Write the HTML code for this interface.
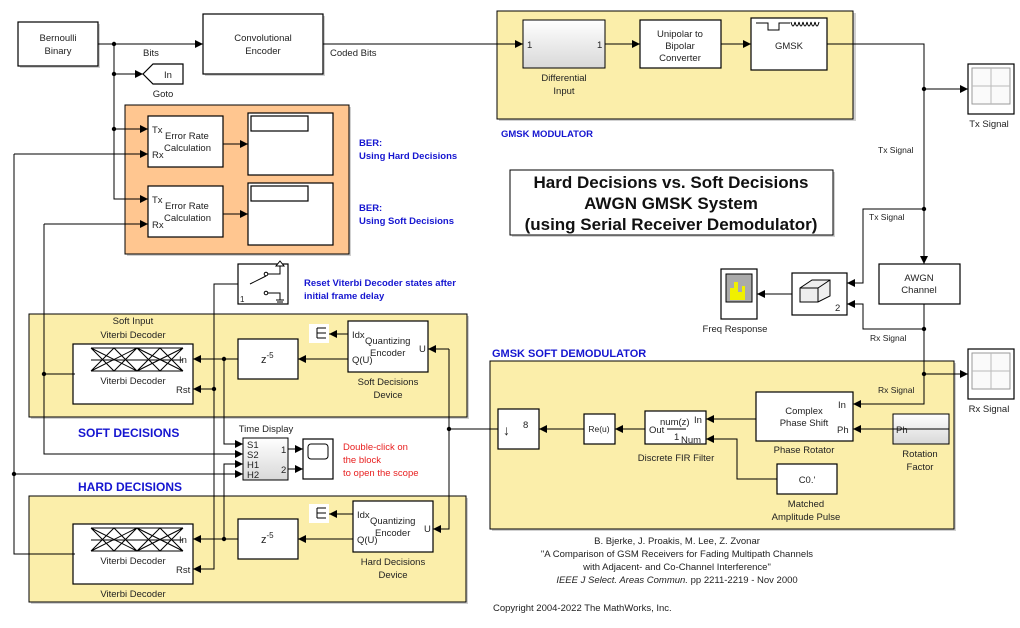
<!DOCTYPE html>
<html><head><meta charset="utf-8"><style>
html,body{margin:0;padding:0;background:#fff}
svg{display:block}
text{font-family:"Liberation Sans",Arial,sans-serif;font-size:9.5px;fill:#222}
.b{fill:#fff;stroke:#000;stroke-width:1.2}
.y{fill:#fbeeaa;stroke:#000;stroke-width:1}
.l{fill:none;stroke:#000;stroke-width:1}
.bl{fill:#1515d0;font-weight:bold;font-size:9.5px}
.bh{fill:#1515d0;font-weight:bold;font-size:12px}
.c{text-anchor:middle}
.sh{fill:#000;opacity:.18}
</style></head><body>
<svg width="1020" height="628" viewBox="0 0 1020 628" xmlns="http://www.w3.org/2000/svg">
<defs>
<marker id="a" markerWidth="8" markerHeight="8" refX="8" refY="4" orient="auto" markerUnits="userSpaceOnUse"><path d="M0,0 L8,4 L0,8 z" fill="#000"/></marker>
<linearGradient id="g" x1="0" y1="0" x2="0" y2="1"><stop offset="0" stop-color="#fff"/><stop offset="1" stop-color="#d8d8d8"/></linearGradient>
</defs>

<!-- shadows -->
<g class="sh">
<rect x="20" y="24" width="80" height="44"/><rect x="205" y="16" width="120" height="60"/>
<rect x="127" y="107" width="224" height="149"/><rect x="499" y="13" width="357" height="108"/>
<rect x="31" y="316" width="438" height="103"/><rect x="31" y="498" width="437" height="106"/>
<rect x="492" y="363" width="464" height="168"/><rect x="512" y="172" width="323" height="65"/>
</g>

<!-- containers -->
<rect x="125" y="105" width="224" height="149" fill="#ffc690" stroke="#000"/>
<rect class="y" x="497" y="11" width="356" height="108"/>
<rect class="y" x="29" y="314" width="438" height="103"/>
<rect class="y" x="29" y="496" width="437" height="106"/>
<rect class="y" x="490" y="361" width="464" height="168"/>

<!-- top blocks -->
<rect class="b" x="18" y="22" width="80" height="44"/>
<text class="c" x="58" y="41">Bernoulli</text><text class="c" x="58" y="54">Binary</text>
<rect class="b" x="203" y="14" width="120" height="60"/>
<text class="c" x="263" y="41">Convolutional</text><text class="c" x="263" y="54">Encoder</text>
<path d="M143,74 L153,64 L183,64 L183,84 L153,84 Z" class="b"/>
<text x="164" y="78">In</text><text class="c" x="163" y="97">Goto</text>
<text x="143" y="56">Bits</text><text x="330" y="56">Coded Bits</text>

<!-- error rate -->
<rect class="b" x="148" y="116" width="75" height="51"/>
<text x="152" y="133">Tx</text><text x="165" y="139">Error Rate</text><text x="164" y="151">Calculation</text><text x="152" y="158">Rx</text>
<rect class="b" x="148" y="186" width="75" height="51"/>
<text x="152" y="203">Tx</text><text x="165" y="209">Error Rate</text><text x="164" y="221">Calculation</text><text x="152" y="228">Rx</text>
<rect class="b" x="248" y="113" width="85" height="62"/><rect class="b" x="251" y="116" width="57" height="15"/>
<rect class="b" x="248" y="183" width="85" height="62"/><rect class="b" x="251" y="186" width="57" height="15"/>
<text class="bl" x="359" y="146">BER:</text><text class="bl" x="359" y="159">Using Hard Decisions</text>
<text class="bl" x="359" y="211">BER:</text><text class="bl" x="359" y="224">Using Soft Decisions</text>

<!-- switch -->
<rect class="b" x="238" y="264" width="50" height="40"/>
<path class="l" d="M250,284 L266,276 M266,274 L280,274 L280,266 M268,293 L280,293 L280,300 M276,300 L284,300 M277,302 L283,302"/>
<path d="M276,266 L284,266 L280,261 Z" fill="#fff" stroke="#000"/>
<circle cx="266" cy="274" r="1.8" fill="#fff" stroke="#000"/><circle cx="266" cy="293" r="1.8" fill="#fff" stroke="#000"/>
<text x="240" y="302" style="font-size:8px">1</text>
<text class="bl" x="304" y="286">Reset Viterbi Decoder states after</text><text class="bl" x="304" y="299">initial frame delay</text>

<!-- soft section -->
<text class="c" x="133" y="324">Soft Input</text><text class="c" x="133" y="338">Viterbi Decoder</text>
<rect class="b" x="73" y="344" width="120" height="60"/>
<path class="l" d="M91,348 L183,348 M91,371 L183,371 M91,348 L114,371 L137,348 L160,371 L183,348 M91,371 L114,348 L137,371 L160,348 L183,371 M91,360 L183,360 M91,348 L137,371 M137,348 L183,371 M91,371 L137,348 M137,371 L183,348"/>
<text class="c" x="133" y="384">Viterbi Decoder</text><text x="179" y="363">In</text><text x="176" y="393">Rst</text>
<rect class="b" x="238" y="339" width="60" height="40"/><text x="261" y="363" style="font-size:11px">z<tspan dy="-5" font-size="8">-5</tspan></text>
<rect class="b" x="348" y="321" width="80" height="51"/>
<text x="352" y="338">Idx</text><text x="365" y="344">Quantizing</text><text x="370" y="356">Encoder</text><text x="352" y="363">Q(U)</text><text x="419" y="352">U</text>
<rect x="309" y="324" width="20" height="19" fill="#fff"/><path class="l" d="M317,328 L317,338 M317,328 L326,328 M317,333 L326,333 M317,338 L326,338"/>
<text class="c" x="388" y="385">Soft Decisions</text><text class="c" x="388" y="398">Device</text>
<text class="bh" x="78" y="437">SOFT DECISIONS</text>
<text class="bh" x="78" y="491">HARD DECISIONS</text>

<!-- time display -->
<text class="c" x="266" y="432">Time Display</text>
<rect x="243" y="438" width="45" height="42" fill="url(#g)" stroke="#000"/>
<text x="247" y="448">S1</text><text x="247" y="458">S2</text><text x="247" y="468">H1</text><text x="247" y="478">H2</text>
<text x="281" y="453">1</text><text x="281" y="473">2</text>
<rect class="b" x="303" y="439" width="30" height="40"/><rect x="308" y="444" width="20" height="15" rx="3" fill="#fff" stroke="#000"/>
<text x="343" y="450" fill="#e02020" style="fill:#e82020">Double-click on</text><text x="343" y="463" style="fill:#e82020">the block</text><text x="343" y="476" style="fill:#e82020">to open the scope</text>

<!-- hard section -->
<rect class="b" x="73" y="524" width="120" height="60"/>
<path class="l" d="M91,528 L183,528 M91,551 L183,551 M91,528 L114,551 L137,528 L160,551 L183,528 M91,551 L114,528 L137,551 L160,528 L183,551 M91,540 L183,540 M91,528 L137,551 M137,528 L183,551 M91,551 L137,528 M137,551 L183,528"/>
<text class="c" x="133" y="564">Viterbi Decoder</text><text x="179" y="543">In</text><text x="176" y="573">Rst</text>
<text class="c" x="133" y="597">Viterbi Decoder</text>
<rect class="b" x="238" y="519" width="60" height="40"/><text x="261" y="543" style="font-size:11px">z<tspan dy="-5" font-size="8">-5</tspan></text>
<rect class="b" x="353" y="501" width="80" height="51"/>
<text x="357" y="518">Idx</text><text x="370" y="524">Quantizing</text><text x="375" y="536">Encoder</text><text x="357" y="543">Q(U)</text><text x="424" y="532">U</text>
<rect x="309" y="504" width="20" height="19" fill="#fff"/><path class="l" d="M317,508 L317,518 M317,508 L326,508 M317,513 L326,513 M317,518 L326,518"/>
<text class="c" x="393" y="565">Hard Decisions</text><text class="c" x="393" y="578">Device</text>

<!-- modulator -->
<rect x="523" y="20" width="82" height="48" fill="url(#g)" stroke="#000"/>
<text x="527" y="48">1</text><text x="597" y="48">1</text>
<text class="c" x="564" y="81">Differential</text><text class="c" x="564" y="94">Input</text>
<rect class="b" x="640" y="20" width="81" height="48"/>
<text class="c" x="680" y="37">Unipolar to</text><text class="c" x="680" y="49">Bipolar</text><text class="c" x="680" y="61">Converter</text>
<rect class="b" x="751" y="18" width="76" height="52"/>
<path class="l" d="M756,23 L768,23 L768,30 L779,30 L779,23 L790,23 M791,22 q2,8 4,0 q2,8 4,0 q2,8 4,0 q2,8 4,0 q2,8 4,0 q2,8 4,0 q2,8 4,0"/>
<text class="c" x="789" y="49">GMSK</text>
<text class="bl" x="501" y="137">GMSK MODULATOR</text>

<!-- title -->
<rect x="510" y="170" width="323" height="65" fill="#fff" stroke="#000"/>
<text class="c" x="671" y="188" style="font-size:17px;font-weight:bold;fill:#111">Hard Decisions vs. Soft Decisions</text>
<text class="c" x="671" y="209" style="font-size:17px;font-weight:bold;fill:#111">AWGN GMSK System</text>
<text class="c" x="671" y="230" style="font-size:17px;font-weight:bold;fill:#111">(using Serial Receiver Demodulator)</text>

<!-- scopes -->
<rect class="b" x="968" y="64" width="46" height="50"/><rect x="972" y="68" width="38" height="36" fill="#fafafa" stroke="#999"/><path d="M991,68 V104 M972,86 H1010" stroke="#bbb"/>
<text class="c" x="989" y="127">Tx Signal</text>
<rect class="b" x="968" y="349" width="46" height="50"/><rect x="972" y="353" width="38" height="36" fill="#fafafa" stroke="#999"/><path d="M991,353 V389 M972,371 H1010" stroke="#bbb"/>
<text class="c" x="989" y="412">Rx Signal</text>
<text x="878" y="153" style="font-size:8.5px">Tx Signal</text><text x="869" y="220" style="font-size:8.5px">Tx Signal</text>
<text x="870" y="341" style="font-size:8.5px">Rx Signal</text><text x="878" y="393" style="font-size:8.5px">Rx Signal</text>

<!-- awgn, mux, freq -->
<rect class="b" x="879" y="264" width="81" height="40"/>
<text class="c" x="919" y="281">AWGN</text><text class="c" x="919" y="293">Channel</text>
<rect class="b" x="792" y="273" width="55" height="42"/>
<path d="M800,302 V288 L812,280 H830 V296 L818,302 Z M800,288 H818 V302 M818,288 L830,280" fill="#eee" stroke="#000"/>
<text x="835" y="311">2</text>
<rect class="b" x="721" y="269" width="36" height="50"/><rect x="726" y="274" width="26" height="28" fill="#aaa" stroke="#000"/>
<path d="M730,300 V288 L734,288 V282 L738,282 V292 L742,292 V286 L745,286 V300 Z" fill="#f0f000"/>
<text class="c" x="735" y="332">Freq Response</text>

<!-- demodulator -->
<text class="bh" x="492" y="357" style="font-size:11px">GMSK SOFT DEMODULATOR</text>
<rect class="b" x="498" y="409" width="41" height="40"/><text x="503" y="435" style="font-size:14px">↓</text><text x="523" y="428">8</text>
<rect class="b" x="584" y="414" width="31" height="30"/><text class="c" x="599" y="432" style="font-size:8.5px">Re(u)</text>
<rect class="b" x="645" y="411" width="61" height="33"/>
<text x="660" y="425">num(z)</text><text x="649" y="433">Out</text><path class="l" d="M667,429 H686"/><text x="674" y="440">1</text><text x="694" y="423">In</text><text x="681" y="443">Num</text>
<text class="c" x="676" y="461">Discrete FIR Filter</text>
<rect class="b" x="756" y="392" width="97" height="49"/>
<text class="c" x="804" y="414">Complex</text><text class="c" x="804" y="426">Phase Shift</text><text x="838" y="408">In</text><text x="837" y="433">Ph</text>
<text class="c" x="804" y="453">Phase Rotator</text>
<rect x="893" y="414" width="56" height="30" fill="url(#g)" stroke="#000"/><text x="896" y="433">Ph</text>
<text class="c" x="920" y="457">Rotation</text><text class="c" x="920" y="470">Factor</text>
<rect class="b" x="777" y="464" width="60" height="30"/><text class="c" x="807" y="483">C0.'</text>
<text class="c" x="806" y="507">Matched</text><text class="c" x="806" y="520">Amplitude Pulse</text>

<!-- connectors -->
<g class="l">
<path d="M98,44 H203" marker-end="url(#a)"/>
<path d="M114,44 V199 H148" marker-end="url(#a)"/>
<path d="M114,74 H143" marker-end="url(#a)"/>
<path d="M114,129 H148" marker-end="url(#a)"/>
<path d="M223,144 H248" marker-end="url(#a)"/>
<path d="M223,214 H248" marker-end="url(#a)"/>
<path d="M323,44 H523" marker-end="url(#a)"/>
<path d="M605,44 H640" marker-end="url(#a)"/>
<path d="M721,44 H751" marker-end="url(#a)"/>
<path d="M827,44 H924 V264" marker-end="url(#a)"/>
<path d="M924,89 H968" marker-end="url(#a)"/>
<path d="M924,209 H863 V283 H847" marker-end="url(#a)"/>
<path d="M924,304 V404 H853" marker-end="url(#a)"/>
<path d="M924,329 H863 V304 H847" marker-end="url(#a)"/>
<path d="M924,374 H968" marker-end="url(#a)"/>
<path d="M792,294 H757" marker-end="url(#a)"/>
<path d="M949,429 H853" marker-end="url(#a)"/>
<path d="M756,419 H706" marker-end="url(#a)"/>
<path d="M777,479 H737 V439 H706" marker-end="url(#a)"/>
<path d="M645,429 H615" marker-end="url(#a)"/>
<path d="M584,429 H539" marker-end="url(#a)"/>
<path d="M498,429 H449"/>
<path d="M449,349 H428" marker-end="url(#a)"/>
<path d="M449,349 V529 H433" marker-end="url(#a)"/>
<path d="M14,154 H148" marker-end="url(#a)"/>
<path d="M14,154 V554 H75"/>
<path d="M14,474 H243" marker-end="url(#a)"/>
<path d="M44,224 H148" marker-end="url(#a)"/>
<path d="M44,224 V454 H243" marker-end="url(#a)"/>
<path d="M44,374 H75"/>
<path d="M238,284 H214 V569 H193" marker-end="url(#a)"/>
<path d="M214,389 H193" marker-end="url(#a)"/>
<path d="M238,359 H193" marker-end="url(#a)"/>
<path d="M224,359 V444 H243" marker-end="url(#a)"/>
<path d="M238,539 H193" marker-end="url(#a)"/>
<path d="M224,539 V464 H243" marker-end="url(#a)"/>
<path d="M348,359 H298" marker-end="url(#a)"/>
<path d="M353,539 H298" marker-end="url(#a)"/>
<path d="M348,334 H329" marker-end="url(#a)"/>
<path d="M353,514 H329" marker-end="url(#a)"/>
<path d="M288,449 H303" marker-end="url(#a)"/>
<path d="M288,469 H303" marker-end="url(#a)"/>
</g>
<g fill="#000">
<circle cx="114" cy="44" r="2.2"/><circle cx="114" cy="74" r="2.2"/><circle cx="114" cy="129" r="2.2"/>
<circle cx="924" cy="89" r="2.2"/><circle cx="924" cy="209" r="2.2"/><circle cx="924" cy="329" r="2.2"/><circle cx="924" cy="374" r="2.2"/>
<circle cx="449" cy="429" r="2.2"/><circle cx="14" cy="474" r="2.2"/><circle cx="44" cy="374" r="2.2"/>
<circle cx="214" cy="389" r="2.2"/><circle cx="224" cy="359" r="2.2"/><circle cx="224" cy="539" r="2.2"/>
</g>

<!-- footer -->
<text class="c" x="677" y="544">B. Bjerke, J. Proakis, M. Lee, Z. Zvonar</text>
<text class="c" x="677" y="557">"A Comparison of GSM Receivers for Fading Multipath Channels</text>
<text class="c" x="677" y="570">with Adjacent- and Co-Channel Interference"</text>
<text class="c" x="677" y="583"><tspan font-style="italic">IEEE J Select. Areas Commun.</tspan> pp 2211-2219 - Nov 2000</text>
<text x="493" y="611">Copyright 2004-2022 The MathWorks, Inc.</text>
</svg>
</body></html>
